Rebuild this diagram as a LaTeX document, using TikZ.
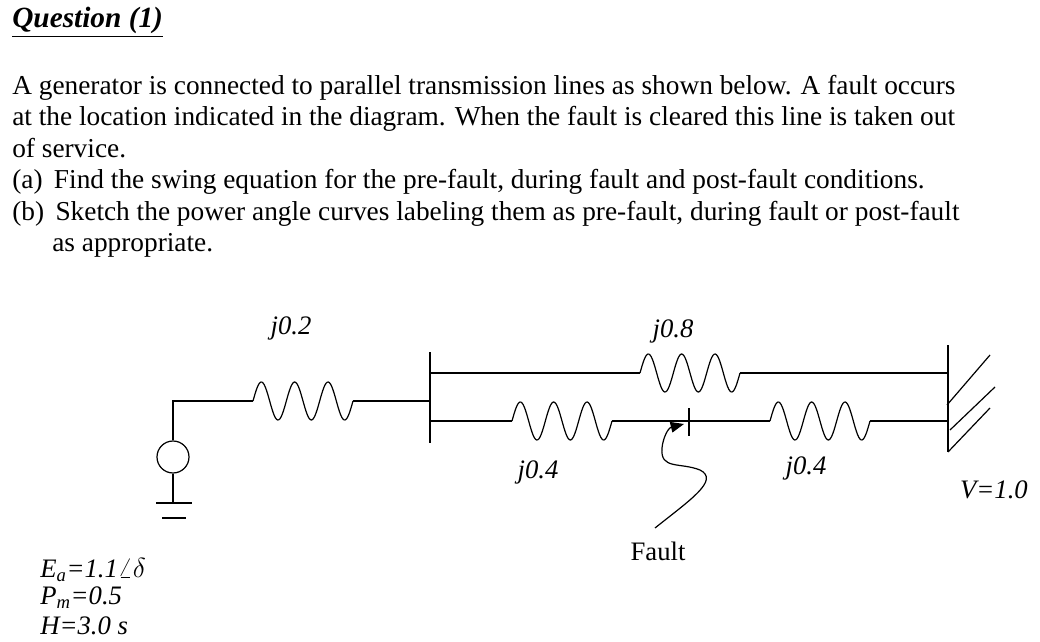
\documentclass[tikz,border=0pt]{standalone}
\usepackage{fontspec}
\setmainfont{Liberation Serif}
\usetikzlibrary{arrows.meta}
\begin{document}
\begin{tikzpicture}[x=0.75pt,y=-0.75pt,
  wire/.style={line width=0.9pt},
  txt/.style={anchor=base west,inner sep=0,font=\fontsize{20.5}{24}\selectfont},
  lbl/.style={inner sep=0,font=\fontsize{20}{24}\selectfont\itshape}]
\useasboundingbox (0,0) rectangle (1040,642);
\def\coilat#1{\draw[wire,shift={(#1)}] plot[domain=0:100,samples=90,smooth] (\x,{-19*sin(\x*10.8)});}
\node[txt,font=\fontsize{22}{24}\selectfont\bfseries\itshape] (title) at (12,28) {\underline{Question (1)}};
\node[txt] (l1) at (12,95) {A generator is connected to parallel transmission lines as shown below. A fault occurs};
\node[txt] (l2) at (12,126) {at the location indicated in the diagram. When the fault is cleared this line is taken out};
\node[txt] (l3) at (12,157) {of service.};
\node[txt] (l4) at (12,189) {(a)\, Find the swing equation for the pre-fault, during fault and post-fault conditions.};
\node[txt] (l5) at (12,220) {(b)\, Sketch the power angle curves labeling them as pre-fault, during fault or post-fault};
\node[txt] (l6) at (52,251) {as appropriate.};
% generator
\node[draw,wire,circle,minimum size=32pt*0.75,inner sep=0] (gen) at (173,457) {};
\coordinate (c1) at (173,401);
\coordinate (k1a) at (253,401); \coordinate (k1b) at (353,401);
\coordinate (bus1) at (430,401);
\draw[wire] (gen.north) -- (c1) -- (k1a);
\coilat{k1a}
\draw[wire] (k1b) -- (bus1);
\draw[wire] (gen.south) -- (173,503);
\draw[wire] (156,503) -- (192,503);
\draw[wire] (162,518) -- (186,518);
% buses
\draw[wire] (430,352) -- (430,443);
\draw[wire] (948,345) -- (948,452);
\draw[wire] (947,405) -- (990,355);
\draw[wire] (950,430) -- (995,387);
\draw[wire] (948,452) -- (990,408);
% upper line
\coordinate (u1) at (640,373); \coordinate (u2) at (740,373);
\draw[wire] (430,373) -- (u1); \coilat{u1} \draw[wire] (u2) -- (948,373);
% lower line
\coordinate (a1) at (512,421); \coordinate (a2) at (612,421);
\coordinate (b1) at (770,421); \coordinate (b2) at (870,421);
\draw[wire] (430,421) -- (a1); \coilat{a1} \draw[wire] (a2) -- (b1);
\coilat{b1} \draw[wire] (b2) -- (948,421);
\draw[wire] (689,408) -- (689,436);
% fault arrow
\coordinate (fs) at (655,528);
\draw[wire,-{Triangle[length=10pt,width=8pt]}] (fs) .. controls (690,500) and (720,480) .. (700,470)
  .. controls (680,462) and (660,470) .. (662,448) .. controls (663,438) and (668,428) .. (684,424);
% labels
\node[lbl] (t1) at (291,328) {j0.2};
\node[lbl] (t2) at (673,331) {j0.8};
\node[lbl] (t3) at (538,472) {j0.4};
\node[lbl] (t4) at (806,468) {j0.4};
\node[lbl] (t5) at (994,490) {V=1.0};
\node[inner sep=0,font=\fontsize{20}{24}\selectfont] (t6) at (658,551) {Fault};
\node[lbl,anchor=base west] (e1) at (40,577) {E\textsubscript{a}=1.1$\angle\delta$};
\node[lbl,anchor=base west] (e2) at (40,604) {P\textsubscript{m}=0.5};
\node[lbl,anchor=base west] (e3) at (40,634) {H=3.0 s};
\end{tikzpicture}
\end{document}
